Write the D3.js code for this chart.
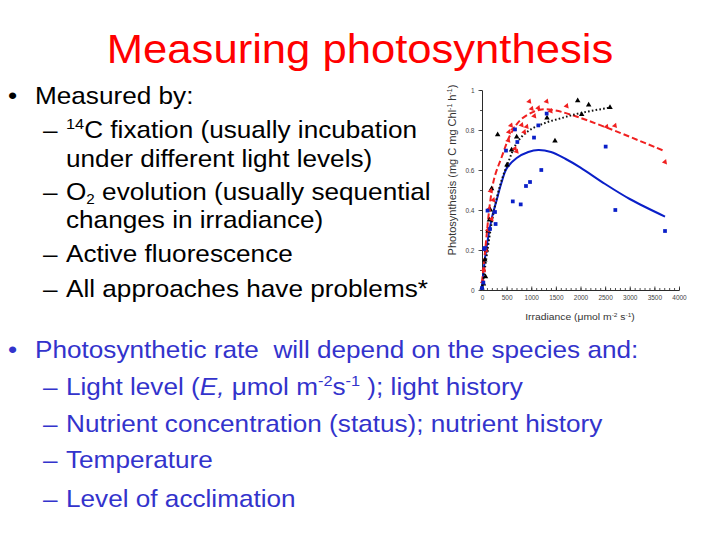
<!DOCTYPE html>
<html>
<head>
<meta charset="utf-8">
<script src="https://cdn.jsdelivr.net/npm/d3@7"></script>
<style>
body{margin:0;background:#fff;}
svg{display:block;font-family:"Liberation Sans",Arial,sans-serif;}
</style>
</head>
<body>
<svg id="slide" width="720" height="540"></svg>
<script>
// 数据
var blackPts = [[0,0.01],[30,0.03],[71,0.067],[57,0.15],[90,0.2],[122,0.295],[150,0.35],[170,0.4],[195,0.507],
  [318,0.777],[507,0.625],[600,0.70],[704,0.765],[1320,0.86],[1482,0.745],[1943,0.947],[2024,0.878],[2166,0.925],[2599,0.913]];
var redPts = [[20,0.04],[41,0.1],[80,0.2],[120,0.3],[142,0.405],[176,0.495],[195,0.355],[230,0.45],[535,0.748],[548,0.79],
  [589,0.823],[636,0.805],[670,0.707],[704,0.693],[806,0.825],[859,0.79],[907,0.817],[961,0.943],[1009,0.907],[1062,0.87],
  [1144,0.91],[1313,0.943],[1394,0.895],[1719,0.92],[2531,0.817],[2700,0.822],[3716,0.64]];
var bluePts = [[0,0.01],[27,0.037],[41,0.205],[60,0.21],[112,0.397],[162,0.305],[276,0.33],[264,0.39],[487,0.697],
  [625,0.443],[786,0.428],[670,0.803],[717,0.74],[893,0.52],[975,0.54],[1056,0.762],[1144,0.823],[1204,0.60],[1313,0.882],
  [2511,0.717],[2707,0.40],[3716,0.295]];
var blackFit = [[0,0],[100,0.18],[200,0.34],[300,0.46],[400,0.55],[535,0.64],[704,0.735],[940,0.795],[1279,0.835],[1651,0.862],[2000,0.885],[2599,0.912]];
var redFit = [[0,0.04],[50,0.16],[100,0.29],[160,0.43],[250,0.56],[400,0.665],[569,0.773],[771,0.848],[1009,0.887],[1212,0.903],[1482,0.898],[1800,0.877],[2531,0.812],[3682,0.697]];
var blueFit = [[0,0],[57,0.15],[195,0.355],[298,0.45],[400,0.54],[501,0.608],[704,0.66],[940,0.69],[1144,0.70],[1400,0.69],[1700,0.655],[2000,0.612],[2500,0.53],[3000,0.455],[3716,0.367]];
var xTicks = [0,500,1000,1500,2000,2500,3000,3500,4000];
var yTicks = [0,0.2,0.4,0.6,0.8,1];

var svg = d3.select('#slide');
var SX = 1.09; // 原图文字横向略宽

// 横向拉伸的文字
function addText(g, x, y, anchor){
  return g.append('text')
    .attr('transform','translate('+x+','+y+') scale('+SX+',1)')
    .attr('text-anchor', anchor || 'start')
    .attr('xml:space','preserve');
}

// 标题
addText(svg, 360, 63, 'middle')
  .style('font-size','40px').style('fill','#f00')
  .text('Measuring photosynthesis');

// 黑色要点
var black = svg.append('g').style('fill','#000').style('font-size','24px');
addText(black, 8, 104).text('\u2022');
addText(black, 35, 104).text('Measured by:');
[138,200,262,297].forEach(function(yy){
  addText(black, 43, yy).text('\u2013');
});
var t1 = addText(black, 66, 138);
t1.append('tspan').style('font-size','15px').attr('dy',-9).text('14');
t1.append('tspan').attr('dy',9).text('C fixation (usually incubation');
addText(black, 66, 167).text('under different light levels)');
var t2 = addText(black, 66, 200);
t2.append('tspan').text('O');
t2.append('tspan').style('font-size','14px').attr('dy',4).text('2');
t2.append('tspan').attr('dy',-4).text(' evolution (usually sequential');
addText(black, 66, 228).text('changes in irradiance)');
addText(black, 66, 262).text('Active fluorescence');
addText(black, 66, 297).text('All approaches have problems*');

// 蓝色要点
var blue = svg.append('g').style('fill','#3333cc').style('font-size','24px');
addText(blue, 8, 358).text('\u2022');
addText(blue, 35, 358).text('Photosynthetic rate  will depend on the species and:');
[395,432,468,507].forEach(function(yy){
  addText(blue, 43, yy).text('\u2013');
});
var t3 = addText(blue, 66, 395);
t3.append('tspan').text('Light level (');
t3.append('tspan').style('font-style','italic').text('E,');
t3.append('tspan').text(' \u03bcmol m');
t3.append('tspan').style('font-size','15px').attr('dy',-9).text('-2');
t3.append('tspan').attr('dy',9).text('s');
t3.append('tspan').style('font-size','15px').attr('dy',-9).text('-1');
t3.append('tspan').attr('dy',9).text(' ); light history');
addText(blue, 66, 432).text('Nutrient concentration (status); nutrient history');
addText(blue, 66, 468).text('Temperature');
addText(blue, 66, 507).text('Level of acclimation');

// ------------------------------------------------------
// 图表
var x = d3.scaleLinear().domain([0,4000]).range([482,679]);
var y = d3.scaleLinear().domain([0,1]).range([290,90]);
var chart = svg.append('g');

chart.append('g').attr('transform','translate(0,'+y(0)+')')
  .call(d3.axisBottom(x).tickValues(d3.range(0,4001,100)).tickSizeInner(-2).tickSizeOuter(0).tickFormat(''));
chart.append('g').attr('transform','translate(0,'+y(0)+')')
  .call(d3.axisBottom(x).tickValues(xTicks).tickSizeInner(-3.5).tickSizeOuter(0).tickPadding(5).tickFormat(d3.format('d')));
chart.append('g').attr('transform','translate('+x(0)+',0)')
  .call(d3.axisLeft(y).tickValues(d3.range(0,1.001,0.1)).tickSizeInner(2).tickSizeOuter(0).tickFormat(''));
chart.append('g').attr('transform','translate('+x(0)+',0)')
  .call(d3.axisLeft(y).tickValues(yTicks).tickSizeInner(3.5).tickSizeOuter(0).tickPadding(4)
    .tickFormat(function(d){ return (d===0||d===1) ? String(d) : d3.format('.1f')(d); }));
chart.selectAll('.tick text').style('font-family','"Liberation Sans",Arial,sans-serif').style('font-size','6.5px').style('fill','#444');
chart.selectAll('.domain, .tick line').style('stroke','#222').style('stroke-width','0.8');

// 轴标题
var yl = chart.append('text')
  .attr('transform','translate(456,170) rotate(-90)')
  .attr('text-anchor','middle')
  .style('font-size','11px').style('fill','#333');
yl.append('tspan').text('Photosynthesis (mg C mg Chl');
yl.append('tspan').style('font-size','7px').attr('dy',-4).text('-1');
yl.append('tspan').attr('dy',4).text(' h');
yl.append('tspan').style('font-size','7px').attr('dy',-4).text('-1');
yl.append('tspan').attr('dy',4).text(')');
var xl = addText(chart, 580, 320, 'middle')
  .style('font-size','9.5px').style('fill','#333');
xl.append('tspan').text('Irradiance (\u03bcmol m');
xl.append('tspan').style('font-size','6px').attr('dy',-3.5).text('-2');
xl.append('tspan').attr('dy',3.5).text(' s');
xl.append('tspan').style('font-size','6px').attr('dy',-3.5).text('-1');
xl.append('tspan').attr('dy',3.5).text(')');

// 拟合曲线
var line = d3.line()
  .x(function(d){ return x(d[0]); })
  .y(function(d){ return y(d[1]); })
  .curve(d3.curveCatmullRom.alpha(0.5));
chart.append('path').datum(blueFit).attr('d',line)
  .style('fill','none').style('stroke','#0a1fc8').style('stroke-width','2');
chart.append('path').datum(redFit).attr('d',line)
  .style('fill','none').style('stroke','#f02020').style('stroke-width','2').style('stroke-dasharray','6,3');
chart.append('path').datum(blackFit).attr('d',line)
  .style('fill','none').style('stroke','#111').style('stroke-width','2').style('stroke-dasharray','1.6,2.2');

// 数据点
var tri = d3.symbol().type(d3.symbolTriangle).size(13);
var sq = d3.symbol().type(d3.symbolSquare).size(14);
chart.append('g').selectAll('path').data(blackPts).enter().append('path')
  .attr('d',tri).attr('transform',function(d){ return 'translate('+x(d[0])+','+y(d[1])+')'; })
  .style('fill','#000');
chart.append('g').selectAll('path').data(redPts).enter().append('path')
  .attr('d',tri).attr('transform',function(d){ return 'translate('+x(d[0])+','+y(d[1])+') rotate(20)'; })
  .style('fill','#f02020');
chart.append('g').selectAll('path').data(bluePts).enter().append('path')
  .attr('d',sq).attr('transform',function(d){ return 'translate('+x(d[0])+','+y(d[1])+')'; })
  .style('fill','#0a1fc8');
</script>
</body>
</html>
